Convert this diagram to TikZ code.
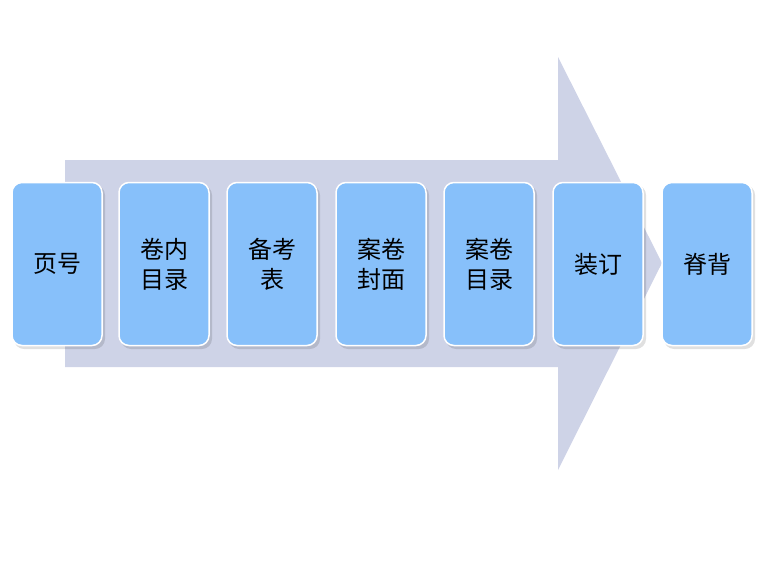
\documentclass[tikz,border=0pt]{standalone}
\usepackage{fontspec}
\newfontfamily\cjk{Noto Sans CJK SC}
\begin{document}
\begin{tikzpicture}[x=1pt,y=-1pt,
  stepbox/.style={draw=white,line width=1.5pt,fill={rgb,255:red,135;green,192;blue,250},rounded corners=10pt,minimum width=90pt,minimum height=163pt,font=\cjk\fontsize{24}{30}\selectfont,align=center,inner sep=0pt}]
\useasboundingbox (0,0) rectangle (760,570);
\fill[fill={rgb,255:red,206;green,211;blue,231}] (65,160) -- (558,160) -- (558,57) -- (662,263) -- (558,470) -- (558,367) -- (65,367) -- cycle;
\foreach \n/\x/\t in {a/57/页号,b/164/卷内\\目录,c/272/备考\\表,d/381/案卷\\封面,e/489/案卷\\目录,f/598/装订,g/707/脊背}{
  \fill[black,opacity=0.12,rounded corners=10pt] (\x-43,185) rectangle (\x+48,349);
  \node[stepbox] (\n) at (\x,264) {\t};
}
\end{tikzpicture}
\end{document}
